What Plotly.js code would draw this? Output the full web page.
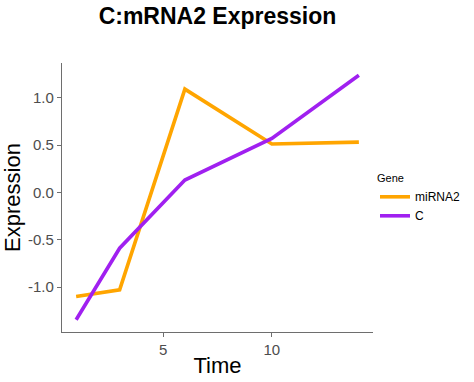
<!DOCTYPE html>
<html>
<head>
<meta charset="utf-8">
<script src="https://cdn.plot.ly/plotly-3.0.1.min.js"></script>
<style>html,body{margin:0;padding:0;background:#fff;}#chart{width:474px;height:382px;}</style>
</head>
<body>
<div id="chart"></div>
<script>
var time = [1, 3, 6, 10, 14];
var miRNA2 = [-1.10, -1.03, 1.09, 0.51, 0.53];
var geneC = [-1.346, -0.59, 0.13, 0.57, 1.237];
var seriesNames = ["miRNA2", "C"];
var yTicks = [-1.0, -0.5, 0.0, 0.5, 1.0];
var yTickLabels = ["-1.0", "-0.5", "0.0", "0.5", "1.0"];
var xTicks = [5, 10];

var traces = [
  {x: time, y: miRNA2, name: seriesNames[0], mode: "lines", type: "scatter",
   line: {color: "#FFA500", width: 3.6}},
  {x: time, y: geneC, name: seriesNames[1], mode: "lines", type: "scatter",
   line: {color: "#A020F0", width: 3.6}}
];

var layout = {
  width: 474, height: 382,
  paper_bgcolor: "#fff", plot_bgcolor: "#fff",
  margin: {l: 62, r: 101, t: 63, b: 50, autoexpand: false},
  font: {family: "Arial, Liberation Sans, sans-serif", color: "#000"},
  title: {text: "<b>C:mRNA2 Expression</b>", font: {size: 23, color: "#000"},
          x: 0.5, xref: "paper", y: 0.958, yref: "container", yanchor: "middle"},
  xaxis: {
    range: [0.35, 14.65], tickvals: xTicks, ticktext: ["5", "10"],
    showgrid: false, zeroline: false, showline: true, linecolor: "#6e6e6e", linewidth: 1.1,
    ticks: "outside", ticklen: 4, tickcolor: "#6e6e6e", tickwidth: 1,
    tickfont: {size: 15, color: "#4d4d4d"},
    title: {text: "Time", font: {size: 22, color: "#000"}, standoff: 0}
  },
  yaxis: {
    range: [-1.475, 1.366], tickvals: yTicks, ticktext: yTickLabels,
    showgrid: false, zeroline: false, showline: true, linecolor: "#6e6e6e", linewidth: 1.1,
    ticks: "outside", ticklen: 4, tickcolor: "#6e6e6e", tickwidth: 1,
    tickfont: {size: 15, color: "#4d4d4d"},
    title: {text: "Expression", font: {size: 22, color: "#000"}, standoff: 2}
  },
  showlegend: true,
  legend: {
    xref: "container", yref: "container",
    x: 375 / 474, xanchor: "left", y: 1 - 168 / 382, yanchor: "top",
    title: {text: "Gene", font: {size: 11, color: "#000"}},
    font: {size: 12, color: "#000"},
    bgcolor: "rgba(0,0,0,0)", itemwidth: 30, tracegroupgap: 0
  }
};

Plotly.newPlot("chart", traces, layout, {displayModeBar: false, staticPlot: true});
</script>
</body>
</html>
